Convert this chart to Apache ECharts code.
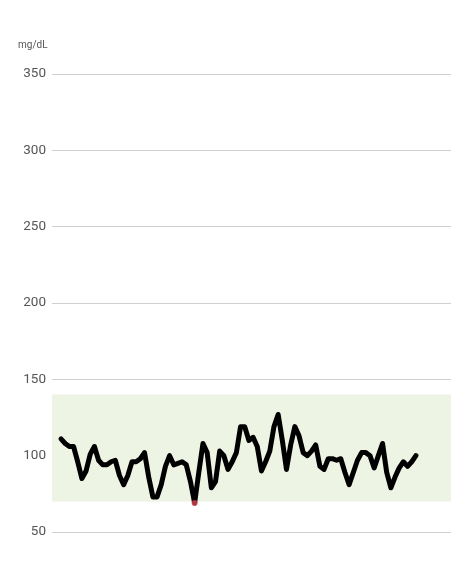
<!DOCTYPE html>
<html>
<head>
<meta charset="utf-8">
<script src="https://cdn.jsdelivr.net/npm/echarts@6/dist/echarts.min.js"></script>
<style>
html,body{margin:0;padding:0;background:#fff;}
#c{width:474px;height:571px;}
</style>
</head>
<body>
<div id="c"></div>
<script>
var unitLabel = 'mg/dL';
var yTicks = [50, 100, 150, 200, 250, 300, 350];
var targetRange = [70, 140];
var lowLimit = 70;
var glucose = [
  111,108,106,106,96,85,90,101,106,97,94,
  94,96,97,87,81,87,96,96,98,102,
  86,73,73,81,93,100,94,95,96,94,
  83,69,89,108,102,79,83,103,100,91,
  96,102,119,119,110,112,106,90,96,103,
  119,127,110,91,107,119,113,102,100,103,
  107,93,91,98,98,97,98,89,81,89,
  97,102,102,100,92,100,108,89,79,86,
  92,96,93,96,100
];

var linePts = glucose.map(function (v, i) { return [i, v]; });
var lowPts = linePts.filter(function (p) { return p[1] < lowLimit; });

var chart = echarts.init(document.getElementById('c'), null, {renderer: 'canvas'});
chart.setOption({
  animation: false,
  title: {
    text: unitLabel, left: 18, top: 40, padding: 0,
    textStyle: {color: '#555', fontSize: 10, fontWeight: 'normal', fontFamily: 'Roboto'}
  },
  grid: {left: 52, right: 23, top: 74, bottom: 39, containLabel: false},
  xAxis: {
    type: 'value', min: -2.16, max: 93.4, show: false
  },
  yAxis: {
    type: 'value',
    min: yTicks[0], max: yTicks[yTicks.length - 1], interval: 50,
    axisLine: {show: false},
    axisTick: {show: false},
    axisLabel: {color: '#555', fontSize: 13.5, fontFamily: 'Roboto', margin: 6},
    splitLine: {lineStyle: {color: '#cfcfcf', width: 1}}
  },
  series: [
    {
      type: 'line',
      data: linePts,
      showSymbol: false,
      lineStyle: {color: '#000', width: 5, join: 'round', cap: 'round'},
      z: 3,
      markArea: {
        silent: true,
        itemStyle: {color: 'rgb(238,244,228)'},
        data: [[{yAxis: targetRange[0]}, {yAxis: targetRange[1]}]]
      }
    },
    {
      type: 'scatter',
      data: lowPts,
      symbol: 'circle',
      symbolSize: 6,
      itemStyle: {color: '#d9434e'},
      z: 4
    }
  ]
});
</script>
</body>
</html>
